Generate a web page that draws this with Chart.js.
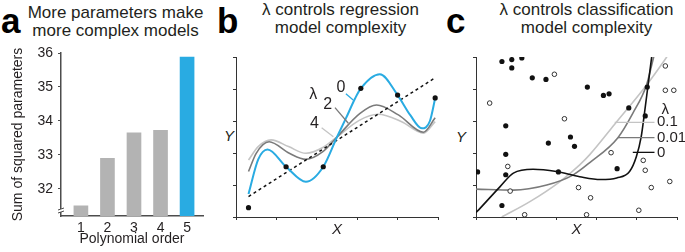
<!DOCTYPE html>
<html>
<head>
<meta charset="utf-8">
<script src="https://cdn.jsdelivr.net/npm/chart.js@4.4.1/dist/chart.umd.min.js"></script>
<style>
  html, body { margin: 0; padding: 0; background: #fff; }
  #board { position: relative; width: 685px; height: 252px; overflow: hidden;
           font-family: "Liberation Sans", Arial, sans-serif; color: #231f20; }
  #board canvas { position: absolute; top: 0; }
  .letter { position: absolute; font-weight: bold; font-size: 35px; line-height: 35px; color: #000; }
  .title { position: absolute; text-align: center; font-size: 17px; line-height: 18px; white-space: nowrap; }
  .axlab { position: absolute; font-style: italic; font-size: 15px; line-height: 15px; }
</style>
</head>
<body>
<div id="board">
  <div class="letter" style="left:1px; top:3px">a</div>
  <div class="title" style="left:5px; width:221px; top:4px">More parameters make<br>more complex models</div>
  <div class="letter" style="left:217px; top:3px">b</div>
  <div class="title" style="left:230px; width:221px; top:1px">λ controls regression<br>model complexity</div>
  <div class="axlab" style="left:224px; top:128px">Y</div>
  <div class="letter" style="left:446px; top:3px">c</div>
  <div class="title" style="left:476px; width:221px; top:1px">λ controls classification<br>model complexity</div>
  <div class="axlab" style="left:456px; top:129px">Y</div>
  <canvas id="chartA" width="215" height="252" style="left:0"></canvas>
  <canvas id="chartB" width="230" height="252" style="left:225px"></canvas>
  <canvas id="chartC" width="230" height="252" style="left:455px"></canvas>
</div>
<script>
// panel a
const orders = [1, 2, 3, 4, 5];
const squaredSums = [31.5, 32.9, 33.65, 33.72, 35.88];
const sumTicks = [32, 33, 34, 35, 36];

// panel b: data points, straight trend and the three fits (lambda 0, 2, 4)
const regX = [0.31, 1.24, 2.16, 3.09, 4.0, 4.93];
const regY = [0.29, 1.57, 1.57, 4.02, 3.81, 3.72];
const trendX = [0.31, 4.93];
const trendY = [0.64, 4.35];
const fit0X = [0.31, 0.55, 0.78, 1.24, 1.73, 2.16, 2.5, 2.72, 2.95, 3.09, 3.56, 4.0, 4.31, 4.6, 4.8, 4.93];
const fit0Y = [0.72, 1.8, 2.11, 1.57, 1.10, 1.57, 2.5, 3.08, 3.71, 4.02, 4.46, 3.81, 3.19, 2.77, 3.0, 3.71];
const fit2X = [0.31, 0.5, 0.82, 1.32, 1.73, 2.15, 2.5, 3.07, 3.48, 4.02, 4.64, 4.93];
const fit2Y = [1.42, 1.99, 2.35, 1.99, 1.80, 2.04, 2.5, 3.24, 3.5, 3.19, 2.65, 3.1];
const fit4X = [0.31, 0.55, 0.87, 1.3, 1.73, 2.15, 2.5, 3.05, 3.52, 4.1, 4.64, 4.93];
const fit4Y = [1.78, 2.2, 2.41, 2.2, 1.99, 2.17, 2.5, 3.02, 3.21, 2.98, 2.62, 2.98];

// panel c: two classes and three boundaries (lambda 0, 0.01, 0.1)
const filledX = [0.645, 0.89, 1.14, 0.89, 1.40, 1.74, 2.77, 3.17, 3.31, 4.26, 3.80, 4.21, 0.74, 1.80, 2.35, 2.45, 0.74, 0.04, 0.74, 2.05, 3.51, 0.645];
const filledY = [4.86, 4.92, 4.97, 4.66, 4.35, 4.30, 4.06, 3.80, 3.85, 4.06, 3.41, 3.16, 2.85, 2.31, 2.50, 2.21, 1.96, 1.41, 1.32, 1.41, 1.51, 0.36];
const openX = [4.71, 1.95, 4.71, 4.92, 0.34, 2.20, 3.36, 0.79, 4.16, 4.21, 4.82, 0.85, 2.55, 4.36, 2.85, 4.05, 1.21, 2.75];
const openY = [4.72, 4.46, 3.96, 3.96, 3.56, 3.07, 2.01, 1.58, 1.77, 1.46, 1.11, 0.81, 0.92, 0.92, 0.60, 0.21, 0.07, 0.07];
const bound0X = [0, 0.1, 0.6, 0.93, 1.42, 2.0, 2.58, 3.1, 3.5, 3.82, 3.99, 4.11, 4.19, 4.28, 4.36, 4.42];
const bound0Y = [0.14, 0.27, 0.95, 1.37, 1.49, 1.42, 1.26, 1.17, 1.22, 1.42, 1.89, 2.51, 3.24, 4.12, 4.9, 5.5];
const bound1X = [0, 0.93, 1.76, 2.41, 2.83, 3.53, 3.9, 4.24, 4.4, 4.5];
const bound1Y = [0.87, 0.84, 1.0, 1.31, 1.7, 2.48, 3.24, 4.12, 4.9, 5.4];
const bound2X = [0.64, 1.34, 2.08, 2.58, 2.83, 3.45, 4.24, 4.69, 4.85];
const bound2Y = [0, 0.48, 1.1, 1.63, 1.95, 2.9, 4.12, 4.9, 5.2];

const BLUE = '#29abe2';
const INK = '#231f20';
Chart.defaults.font.family = '"Liberation Sans", Arial, sans-serif';
Chart.defaults.color = INK;

function pts(xs, ys) {
    return xs.map((x, i) => ({ x: x, y: ys[i] }));
}

// little annotation layer: leader lines and labels in data units
const notes = {
    id: 'notes',
    afterDatasetsDraw(chart, args, opts) {
        const { ctx, scales: { x, y } } = chart;
        ctx.save();
        (opts.lines || []).forEach(l => {
            ctx.strokeStyle = l.color;
            ctx.lineWidth = 1.3;
            ctx.beginPath();
            ctx.moveTo(x.getPixelForValue(l.from[0]), y.getPixelForValue(l.from[1]));
            ctx.lineTo(x.getPixelForValue(l.to[0]), y.getPixelForValue(l.to[1]));
            ctx.stroke();
        });
        ctx.fillStyle = INK;
        ctx.textBaseline = 'middle';
        ctx.font = (opts.size || 16) + 'px "Liberation Sans", Arial, sans-serif';
        (opts.texts || []).forEach(t => {
            ctx.textAlign = t.align || 'center';
            ctx.fillText(t.text, x.getPixelForValue(t.at[0]), y.getPixelForValue(t.at[1]));
        });
        ctx.restore();
    }
};

// the little break mark at the bottom of the y axis in panel a
const axisBreak = {
    id: 'axisBreak',
    afterDraw(chart) {
        const { ctx, chartArea: { left, bottom } } = chart;
        ctx.save();
        ctx.fillStyle = '#fff';
        ctx.fillRect(left - 2, bottom - 7, 4, 3);
        ctx.strokeStyle = '#4d4d4d';
        ctx.lineWidth = 1;
        [-7, -4].forEach(dy => {
            ctx.beginPath();
            ctx.moveTo(left - 3, bottom + dy + 1);
            ctx.lineTo(left + 3, bottom + dy - 1);
            ctx.stroke();
        });
        ctx.restore();
    }
};

function plainAxis(size, title, titlePad) {
    return {
        type: 'linear',
        min: 0,
        max: 5,
        ticks: { display: false, stepSize: 1 },
        grid: { drawOnChartArea: false, drawTicks: true, tickLength: 3, color: '#333' },
        border: { color: '#333', width: 1 },
        title: title ? {
            display: true, text: title, color: INK,
            font: { size: 15, style: 'italic' }, padding: titlePad
        } : { display: false },
        afterFit: s => { if (s.isHorizontal()) s.height = size; else s.width = size; }
    };
}

const quiet = {
    responsive: false,
    animation: false,
    events: [],
    plugins: { legend: { display: false }, tooltip: { enabled: false } }
};

new Chart(document.getElementById('chartA'), {
    type: 'bar',
    data: {
        datasets: [{
            data: pts(orders, squaredSums),
            backgroundColor: ctx => ctx.dataIndex === orders.length - 1 ? BLUE : '#b3b3b3',
            barThickness: 14,
            borderWidth: 0
        }]
    },
    plugins: [axisBreak],
    options: {
        ...quiet,
        layout: { padding: { top: 53, right: 12, bottom: 0, left: 0 } },
        scales: {
            x: {
                type: 'linear',
                offset: false,
                min: 0.25,
                max: 5.6,
                afterBuildTicks: s => { s.ticks = orders.map(v => ({ value: v })); },
                ticks: { font: { size: 14 }, padding: 4, color: INK, maxRotation: 0, minRotation: 0 },
                grid: { display: false, drawTicks: false, tickLength: 0, offset: false },
                border: { color: '#4d4d4d', width: 1.5 },
                title: { display: true, text: 'Polynomial order', color: INK, font: { size: 14 }, padding: { top: 0, bottom: 4 } },
                afterFit: s => { s.height = 36; }
            },
            y: {
                min: 31.2,
                max: 36,
                afterBuildTicks: s => { s.ticks = sumTicks.map(v => ({ value: v })); },
                ticks: { font: { size: 14 }, padding: 5, color: INK },
                grid: { drawOnChartArea: false, drawTicks: true, tickLength: 3, color: '#4d4d4d' },
                border: { color: '#4d4d4d', width: 1.5 },
                title: { display: true, text: 'Sum of squared parameters', color: INK, font: { size: 14 }, padding: { top: 10, bottom: 0 } },
                afterFit: s => { s.width = 61; }
            }
        }
    }
});

const curve = (data, color, width) => ({
    data: data, showLine: true, borderColor: color, borderWidth: width,
    pointRadius: 0, cubicInterpolationMode: 'monotone', clip: 0
});

new Chart(document.getElementById('chartB'), {
    type: 'scatter',
    data: {
        datasets: [
            { data: pts(regX, regY), pointRadius: 2.6, backgroundColor: '#111', borderWidth: 0 },
            curve(pts(fit0X, fit0Y), BLUE, 2),
            { data: pts(trendX, trendY), showLine: true, borderColor: '#111', borderWidth: 1.5, borderDash: [3, 3], pointRadius: 0 },
            curve(pts(fit2X, fit2Y), '#7a7a7a', 1.6),
            curve(pts(fit4X, fit4Y), '#c4c4c4', 1.6)
        ]
    },
    plugins: [notes],
    options: {
        ...quiet,
        layout: { padding: { top: 57, right: 17, bottom: 0, left: 0 } },
        plugins: {
            ...quiet.plugins,
            notes: {
                size: 16,
                lines: [
                    { from: [2.72, 3.85], to: [2.9, 3.66], color: BLUE },
                    { from: [2.45, 3.42], to: [2.78, 2.93], color: '#7a7a7a' },
                    { from: [2.12, 2.79], to: [2.41, 2.51], color: '#c4c4c4' }
                ],
                texts: [
                    { text: 'λ', at: [1.91, 3.81] },
                    { text: '0', at: [2.6, 4.05] },
                    { text: '2', at: [2.27, 3.5] },
                    { text: '4', at: [1.94, 2.93] }
                ]
            }
        },
        scales: {
            x: plainAxis(35, 'X', { top: 0, bottom: 13 }),
            y: plainAxis(11)
        }
    }
});

new Chart(document.getElementById('chartC'), {
    type: 'scatter',
    data: {
        datasets: [
            { data: pts(filledX, filledY), pointRadius: 2.6, backgroundColor: '#111', borderWidth: 0 },
            { data: pts(openX, openY), pointRadius: 2.3, backgroundColor: '#fff', borderColor: '#333', borderWidth: 1 },
            curve(pts(bound0X, bound0Y), '#111', 1.6),
            curve(pts(bound1X, bound1Y), '#7a7a7a', 1.6),
            curve(pts(bound2X, bound2Y), '#c4c4c4', 1.6)
        ]
    },
    plugins: [notes],
    options: {
        ...quiet,
        layout: { padding: { top: 57, right: 8, bottom: 0, left: 0 } },
        plugins: {
            ...quiet.plugins,
            notes: {
                size: 15,
                lines: [
                    { from: [3.45, 2.96], to: [4.44, 2.96], color: '#c4c4c4' },
                    { from: [3.53, 2.48], to: [4.44, 2.48], color: '#7a7a7a' },
                    { from: [3.9, 2.02], to: [4.44, 2.02], color: '#111' }
                ],
                texts: [
                    { text: 'λ', at: [4.71, 3.34] },
                    { text: '0.1', at: [4.5, 2.96], align: 'left' },
                    { text: '0.01', at: [4.5, 2.48], align: 'left' },
                    { text: '0', at: [4.5, 2.02], align: 'left' }
                ]
            }
        },
        scales: {
            x: plainAxis(35, 'X', { top: 0, bottom: 13 }),
            y: plainAxis(21)
        }
    }
});
</script>
</body>
</html>
